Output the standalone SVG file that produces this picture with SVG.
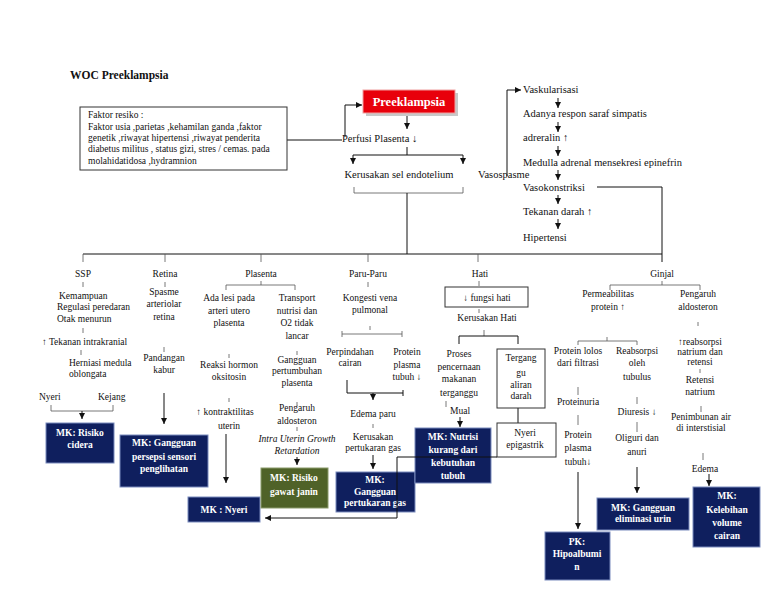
<svg xmlns="http://www.w3.org/2000/svg" width="768" height="594" viewBox="0 0 768 594">
<style>
text{font-family:"Liberation Serif","Times New Roman",serif;fill:#111;font-size:9.5px}
.m{text-anchor:middle}
.t10{font-size:10.5px}
.w{fill:#fff;font-weight:bold;font-size:9.5px;text-anchor:middle}
.navy{fill:#0f1f5e;stroke:#7b8bbd;stroke-width:1}
.wb{fill:#fff;stroke:#333;stroke-width:1}
.ln{fill:none;stroke:#111;stroke-width:1}
.tk{fill:none;stroke:#555;stroke-width:0.8}
.ar{fill:none;stroke:#111;stroke-width:1;marker-end:url(#ah)}
</style>
<defs>
<marker id="ah" viewBox="0 0 6 6" refX="6" refY="3" markerWidth="6" markerHeight="6" markerUnits="userSpaceOnUse" orient="auto"><path d="M0,0 L6,3 L0,6 z" fill="#111"/></marker>
</defs>
<rect width="768" height="594" fill="#fff"/>
<text x="70" y="79" style="font-size:11.5px;font-weight:bold">WOC Preeklampsia</text>

<g id="connectors">
<path class="ln" d="M287,140 H342"/>
<path class="ar" d="M345,137 V105 H362"/>
<path class="ar" d="M407,115 V129"/>
<path class="ln" d="M407,147 V155 M353,155 H463"/>
<path class="ar" d="M353,155 V164"/>
<path class="ar" d="M463,155 V164"/>
<path class="tk" d="M354,187 V193 H463 V187"/>
<path class="ln" d="M407,193 V254 M83,254 H662"/>
<path class="tk" d="M83,254 V262 M165,254 V262 M261,254 V262 M368,254 V262 M478,254 V262"/>
<path class="ar" d="M507,176 V90 H521"/>
<path class="ar" d="M558,98 V108"/>
<path class="ar" d="M558,122 V132"/>
<path class="ar" d="M558,146 V156"/>
<path class="ar" d="M558,170 V180"/>
<path class="ar" d="M558,195 V204"/>
<path class="ar" d="M558,219 V229"/>
<path class="ln" d="M597,187 H662 V262"/>
<!-- SSP -->
<path class="tk" d="M83,282 V287 M83,328 V333 M81,350 V355 M51,405 V411 H113 V405"/>
<path class="ar" d="M82,411 V419"/>
<!-- Retina -->
<path class="tk" d="M165,282 V287 M164,347 V352"/>
<path class="ar" d="M164,393 V424"/>
<!-- Plasenta -->
<path class="tk" d="M261,281 V285 M226,290 V285 H295 V290 M229,354 V358 M229,398 V402 M297,351 V355 M297,402 V406 M297,427 V431"/>
<path class="ar" d="M226,434 V483"/>
<path class="ar" d="M297,457 V465"/>
<!-- Paru -->
<path class="tk" d="M368,282 V287 M370,326 V330 M342,331 V337 M342,334 H402 M402,331 V337 M373,424 V428"/>
<path class="ln" d="M347,380 V393 H403 M403,390 V396"/>
<path class="ar" d="M373,393 V400"/>
<path class="ar" d="M373,455 V469"/>
<!-- Hati -->
<path class="tk" d="M479,281 V286 M479,309 V313 M484,330 V336 M446,401 V407"/>
<path class="ln" d="M459,344 V336 H518 V344 M518,408 V423"/>
<path class="ar" d="M460,417 V427"/>
<!-- Ginjal -->
<path class="tk" d="M662,281 V285 M610,290 V285 H700 V290 M607,337 V341 M578,345 V341 H637 V345 M578,387 V395 M578,415 V425 M637,397 V404 M637,422 V432 M698,322 V326 M700,369 V373 M701,406 V412 M703,453 V460"/>
<path class="ar" d="M578,472 V529"/>
<path class="ar" d="M637,467 V493"/>
<path class="ar" d="M709,474 V486"/>
</g>

<g id="faktor-resiko">
<rect x="80" y="107" width="207" height="63" class="wb"/>
<text x="88" y="118">Faktor resiko :</text>
<text x="88" y="130">Faktor usia ,parietas ,kehamilan ganda ,faktor</text>
<text x="88" y="141">genetik ,riwayat hipertensi ,riwayat penderita</text>
<text x="88" y="152">diabetus militus , status gizi, stres / cemas. pada</text>
<text x="88" y="164">molahidatidosa ,hydramnion</text>
</g>

<g id="preeklampsia">
<rect x="366" y="93" width="92" height="23" fill="#c8c8c8"/>
<rect x="363" y="90" width="92" height="23" fill="#e8000b" stroke="#f0a0a0" stroke-width="1"/>
<text x="409" y="106" class="w" style="font-size:12.5px">Preeklampsia</text>
</g>

<g id="perfusi"><text x="342" y="142" class="t10">Perfusi Plasenta ↓</text></g>
<g id="kerusakan-endotel"><text x="399" y="178" class="t10 m">Kerusakan sel endotelium</text></g>
<g id="vasospasme"><text x="478" y="178" class="t10">Vasospasme</text></g>

<g id="chain">
<text x="523" y="93" class="t10">Vaskularisasi</text>
<text x="523" y="117" class="t10">Adanya respon saraf simpatis</text>
<text x="523" y="141" class="t10">adreralin ↑</text>
<text x="523" y="166" class="t10">Medulla adrenal mensekresi epinefrin</text>
<text x="523" y="191" class="t10">Vasokonstriksi</text>
<text x="523" y="215" class="t10">Tekanan darah ↑</text>
<text x="523" y="241" class="t10">Hipertensi</text>
</g>

<g id="organs">
<text x="83" y="277" class="m">SSP</text>
<text x="165" y="277" class="m">Retina</text>
<text x="261" y="277" class="m">Plasenta</text>
<text x="368" y="277" class="m">Paru-Paru</text>
<text x="480" y="277" class="m">Hati</text>
<text x="662" y="277" class="m">Ginjal</text>
</g>

<g id="ssp">
<text x="59" y="299">Kemampuan</text>
<text x="57" y="310">Regulasi peredaran</text>
<text x="57" y="322">Otak  menurun</text>
<text x="42" y="345">↑ Tekanan intrakranial</text>
<text x="69" y="366">Herniasi medula</text>
<text x="69" y="377">oblongata</text>
<text x="39" y="400">Nyeri</text>
<text x="98" y="400">Kejang</text>
</g>
<g id="mk-risiko-cidera">
<rect x="46" y="423" width="68" height="40" class="navy"/>
<text x="80" y="436" class="w">MK: Risiko</text>
<text x="80" y="448" class="w">cidera</text>
</g>

<g id="retina">
<text x="164" y="295" class="m">Spasme</text>
<text x="164" y="307" class="m">arteriolar</text>
<text x="164" y="320" class="m">retina</text>
<text x="164" y="361" class="m">Pandangan</text>
<text x="164" y="373" class="m">kabur</text>
</g>
<g id="mk-persepsi">
<rect x="120" y="435" width="88" height="52" class="navy"/>
<text x="164" y="446" class="w">MK: Gangguan</text>
<text x="164" y="460" class="w">persepsi sensori</text>
<text x="164" y="472" class="w">penglihatan</text>
</g>

<g id="plasenta">
<text x="229" y="301" class="m">Ada lesi pada</text>
<text x="229" y="314" class="m">arteri utero</text>
<text x="229" y="326" class="m">plasenta</text>
<text x="229" y="368" class="m">Reaksi hormon</text>
<text x="229" y="380" class="m">oksitosin</text>
<text x="225" y="415" class="m">↑ kontraktilitas</text>
<text x="229" y="429" class="m">uterin</text>
<text x="297" y="301" class="m">Transport</text>
<text x="297" y="314" class="m">nutrisi dan</text>
<text x="297" y="326" class="m">O2 tidak</text>
<text x="297" y="339" class="m">lancar</text>
<text x="297" y="363" class="m">Gangguan</text>
<text x="297" y="374" class="m">pertumbuhan</text>
<text x="297" y="386" class="m">plasenta</text>
<text x="297" y="411" class="m">Pengaruh</text>
<text x="297" y="424" class="m">aldosteron</text>
<text x="297" y="442" class="m" font-style="italic">Intra Uterin Growth</text>
<text x="297" y="454" class="m" font-style="italic">Retardation</text>
</g>
<g id="mk-nyeri">
<rect x="188" y="497" width="72" height="25" class="navy"/>
<text x="224" y="513" class="w">MK : Nyeri</text>
</g>
<g id="mk-gawat-janin">
<rect x="261" y="468" width="67" height="40" fill="#4f6228" stroke="#8a9a6a" stroke-width="1"/>
<text x="294" y="481" class="w">MK: Risiko</text>
<text x="294" y="495" class="w">gawat janin</text>
</g>

<g id="paru">
<text x="370" y="301" class="m">Kongesti vena</text>
<text x="370" y="313" class="m">pulmonal</text>
<text x="350" y="355" class="m">Perpindahan</text>
<text x="350" y="366" class="m">cairan</text>
<text x="407" y="355" class="m">Protein</text>
<text x="407" y="368" class="m">plasma</text>
<text x="407" y="380" class="m">tubuh ↓</text>
<text x="373" y="417" class="m">Edema paru</text>
<text x="373" y="440" class="m">Kerusakan</text>
<text x="373" y="451" class="m">pertukaran gas</text>
</g>
<g id="mk-pertukaran-gas">
<rect x="336" y="472" width="79" height="40" class="navy"/>
<text x="375" y="483" class="w">MK:</text>
<text x="375" y="495" class="w">Gangguan</text>
<text x="375" y="506" class="w">pertukaran gas</text>
</g>

<g id="hati">
<rect x="445" y="287" width="83" height="20" class="wb"/>
<text x="487" y="301" class="m">↓ fungsi hati</text>
<text x="487" y="321" class="m">Kerusakan Hati</text>
<text x="459" y="357" class="m">Proses</text>
<text x="459" y="370" class="m">pencernaan</text>
<text x="459" y="382" class="m">makanan</text>
<text x="459" y="396" class="m">terganggu</text>
<text x="460" y="414" class="m">Mual</text>
</g>
<g id="aliran-darah">
<rect x="497" y="349" width="48" height="59" class="wb"/>
<text x="521" y="361" class="m">Tergang</text>
<text x="521" y="376" class="m">gu</text>
<text x="521" y="388" class="m">aliran</text>
<text x="521" y="399" class="m">darah</text>
</g>
<g id="nyeri-epigastrik">
<rect x="497" y="423" width="59" height="34" class="wb"/>
<text x="525" y="436" class="m">Nyeri</text>
<text x="525" y="448" class="m">epigastrik</text>
</g>
<g id="mk-nutrisi">
<rect x="415" y="428" width="76" height="55" class="navy"/>
<text x="453" y="440" class="w">MK: Nutrisi</text>
<text x="453" y="453" class="w">kurang dari</text>
<text x="453" y="466" class="w">kebutuhan</text>
<text x="453" y="479" class="w">tubuh</text>
</g>

<g id="ginjal">
<text x="608" y="297" class="m">Permeabilitas</text>
<text x="608" y="310" class="m">protein ↑</text>
<text x="698" y="297" class="m">Pengaruh</text>
<text x="698" y="310" class="m">aldosteron</text>
<text x="578" y="354" class="m">Protein lolos</text>
<text x="578" y="366" class="m">dari filtrasi</text>
<text x="637" y="354" class="m">Reabsorpsi</text>
<text x="637" y="366" class="m">oleh</text>
<text x="637" y="380" class="m">tubulus</text>
<text x="578" y="405" class="m">Proteinuria</text>
<text x="578" y="438" class="m">Protein</text>
<text x="578" y="451" class="m">plasma</text>
<text x="578" y="465" class="m">tubuh↓</text>
<text x="637" y="415" class="m">Diuresis ↓</text>
<text x="637" y="441" class="m">Oliguri dan</text>
<text x="637" y="455" class="m">anuri</text>
<text x="700" y="345" class="m">↑reabsorpsi</text>
<text x="700" y="355" class="m">natrium dan</text>
<text x="700" y="365" class="m">retensi</text>
<text x="700" y="383" class="m">Retensi</text>
<text x="700" y="395" class="m">natrium</text>
<text x="701" y="420" class="m">Penimbunan air</text>
<text x="701" y="431" class="m">di interstisial</text>
<text x="705" y="472" class="m">Edema</text>
</g>
<g id="pk-hipoalbumin">
<rect x="545" y="532" width="65" height="48" class="navy"/>
<text x="577" y="545" class="w">PK:</text>
<text x="577" y="557" class="w">Hipoalbumi</text>
<text x="577" y="570" class="w">n</text>
</g>
<g id="mk-eliminasi">
<rect x="597" y="498" width="92" height="32" class="navy"/>
<text x="643" y="511" class="w">MK:  Gangguan</text>
<text x="643" y="522" class="w">eliminasi urin</text>
</g>
<g id="mk-kelebihan">
<rect x="693" y="487" width="67" height="60" class="navy"/>
<text x="727" y="499" class="w">MK:</text>
<text x="727" y="513" class="w">Kelebihan</text>
<text x="727" y="526" class="w">volume</text>
<text x="727" y="539" class="w">cairan</text>
</g>

<g id="connector-nyeri">
<path class="ar" d="M497,457 H397 V518 H265"/>
</g>
</svg>
